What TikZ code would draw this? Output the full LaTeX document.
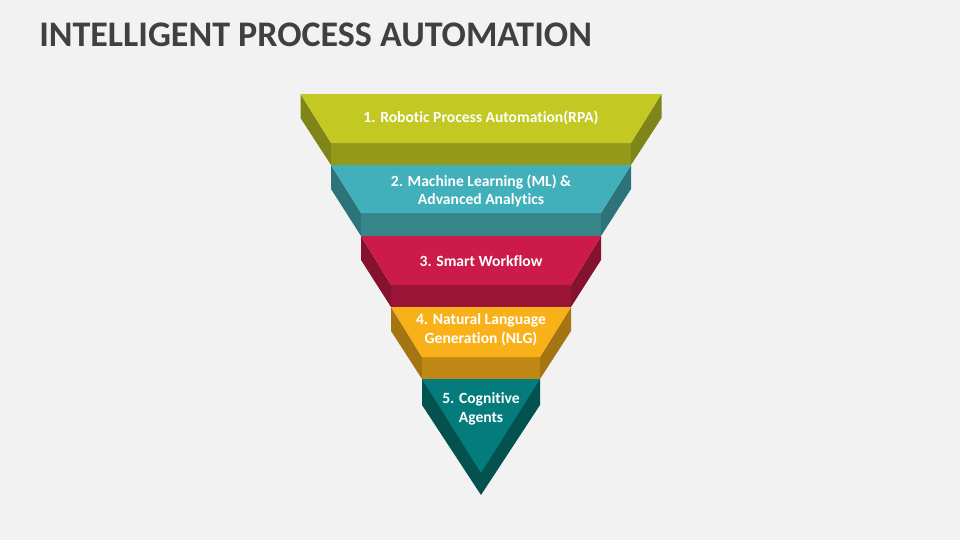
\documentclass[tikz,border=0pt]{standalone}
\usepackage{fontspec}
\setmainfont[Ligatures=NoCommon]{Carlito}
\begin{document}
\begin{tikzpicture}[x=0.75pt,y=-0.75pt,
  lbl/.style={text=white,font=\fontsize{11.7}{14}\selectfont\bfseries,align=center,inner sep=0}]
\fill[gray!10!white] (0,0) rectangle (960,540);
\useasboundingbox (0,0) rectangle (960,540);
\node[anchor=west,text=black!75,font=\fontsize{27}{30}\selectfont\bfseries,inner sep=0] (title) at (39,35) {INTELLIGENT PROCESS AUTOMATION};
\def\cx{481}
\foreach \ty/\tw/\bw/\fy/\by/\cf/\cb/\cs in {
  94/180.5/150/143/165/C3C823/939A1A/7F8518,
  165/150/120/213/236/42B0BB/358589/2C747A,
  236/120/90/285/307/CC1B4A/9B1538/86122F,
  307/90/59/357/379/F9B11A/BF8815/A57512}{
  \definecolor{cf}{HTML}{\cf}\definecolor{cb}{HTML}{\cb}\definecolor{cs}{HTML}{\cs}
  \fill[cs] (\cx-\tw,\ty) -- (\cx-\tw,\ty+24) -- (\cx-\bw,\by) -- (\cx-\bw,\fy) -- cycle;
  \fill[cs] (\cx+\tw,\ty) -- (\cx+\tw,\ty+24) -- (\cx+\bw,\by) -- (\cx+\bw,\fy) -- cycle;
  \fill[cb] (\cx-\bw,\fy) rectangle (\cx+\bw,\by);
  \fill[cf] (\cx-\tw,\ty) -- (\cx+\tw,\ty) -- (\cx+\bw,\fy) -- (\cx-\bw,\fy) -- cycle;
}
\definecolor{tf}{HTML}{037C7B}\definecolor{td}{HTML}{03524F}
\fill[td] (422,379) -- (540,379) -- (540,405) -- (481,495) -- (422,405) -- cycle;
\fill[tf] (422,379) -- (540,379) -- (481,473) -- cycle;
\node[lbl] (l1) at (481,118) {1. Robotic Process Automation(RPA)};
\node[lbl] (l2) at (481,191) {2. Machine Learning (ML) \&\\Advanced Analytics};
\node[lbl] (l3) at (481,261) {3. Smart Workflow};
\node[lbl] (l4) at (481,330) {4. Natural Language\\Generation (NLG)};
\node[lbl] (l5) at (481,409) {5. Cognitive\\Agents};
\end{tikzpicture}
\end{document}
